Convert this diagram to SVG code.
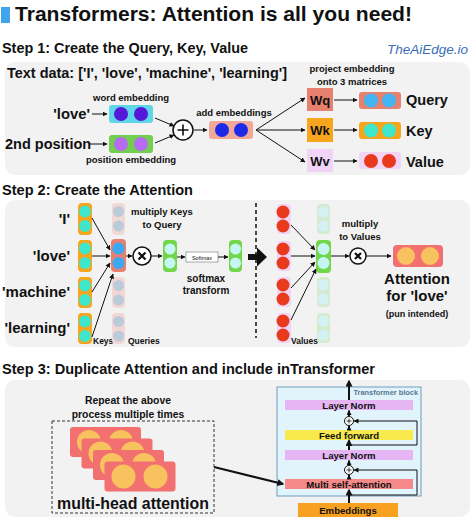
<svg xmlns="http://www.w3.org/2000/svg" width="474" height="519" viewBox="0 0 474 519">
<defs>
<style>
.t{font-family:"Liberation Sans",Arial,sans-serif;font-weight:bold;fill:#111}
.m{text-anchor:middle}
.e{text-anchor:end}
.panel{fill:#f2f2f2}
.ln{stroke:#111;stroke-width:1;fill:none}
.lnb{stroke:#111;stroke-width:2;fill:none}
.key{fill:#f8a51e}
.tq{fill:#3ee6cc}
.qf{fill:#f2d8d4}
.qfc{fill:#bccbd9}
.val{fill:#f2d4f6}
.red{fill:#e83a1c}
.gr{fill:#72d64a}
.grf{fill:#d4ebd0}
.cy{fill:#c6f6f4}
.cyf{fill:#d4f2f4}
.att{fill:#f27070}
.yel{fill:#f8c25e}
.op{fill:#fff;stroke:#111;stroke-width:1.5}
</style>
<marker id="a" viewBox="0 0 10 10" refX="9" refY="5" markerWidth="5" markerHeight="5" orient="auto" markerUnits="userSpaceOnUse"><path d="M0,0 L10,5 L0,10 z" fill="#111"/></marker>
<marker id="ab" viewBox="0 0 10 10" refX="8" refY="5" markerWidth="7" markerHeight="7" orient="auto" markerUnits="userSpaceOnUse"><path d="M0,0 L10,5 L0,10 z" fill="#111"/></marker>
</defs>
<rect width="474" height="519" fill="#fff"/>

<!-- Title -->
<g id="title">
<rect x="1" y="7" width="9" height="16" fill="#41a5ee"/>
<text class="t" x="15" y="21" font-size="20.5" textLength="397" lengthAdjust="spacingAndGlyphs">Transformers: Attention is all you need!</text>
<text class="t" x="2" y="53" font-size="14.2" textLength="246" lengthAdjust="spacingAndGlyphs">Step 1: Create the Query, Key, Value</text>
<text x="468" y="54" font-family="Liberation Sans,Arial,sans-serif" font-style="italic" font-size="13.5" fill="#3a6fb5" text-anchor="end">TheAiEdge.io</text>
</g>

<!-- Panels -->
<rect class="panel" x="5" y="62" width="465" height="113" rx="10"/>
<rect class="panel" x="5" y="200" width="465" height="147" rx="10"/>
<rect class="panel" x="5" y="380" width="465" height="137" rx="10"/>

<!-- Step 1 -->
<g id="step1-text">
<text class="t" x="7" y="78" font-size="14.5" textLength="280" lengthAdjust="spacingAndGlyphs">Text data: ['I', 'love', 'machine', 'learning']</text>
</g>
<g id="love-word">
<text class="t e" x="90" y="119" font-size="14.8">'love'</text>
</g>
<g id="word-embedding">
<text class="t m" x="131" y="101" font-size="9.5">word embedding</text>
<rect x="109" y="105" width="44" height="18" rx="3" fill="#5fd6e8"/>
<circle cx="121" cy="114" r="7" fill="#5518d8"/>
<circle cx="141" cy="114" r="7" fill="#5518d8"/>
</g>
<g id="position">
<text class="t" x="5" y="149" font-size="14.5">2nd position</text>
</g>
<g id="position-embedding">
<rect x="109" y="135" width="44" height="18" rx="3" fill="#72cf50"/>
<circle cx="121" cy="144" r="7" fill="#b66cf0"/>
<circle cx="141" cy="144" r="7" fill="#b66cf0"/>
<text class="t m" x="131" y="163" font-size="9.5">position embedding</text>
</g>
<g id="plus">
<circle class="op" cx="183" cy="130" r="10"/>
<path d="M177.5,130 H188.5 M183,124.5 V135.5" stroke="#111" stroke-width="1.6"/>
</g>
<g id="add-embeddings">
<text class="t m" x="234" y="116" font-size="9.5">add embeddings</text>
<rect x="209" y="121" width="44" height="18" rx="3" fill="#f2a898"/>
<circle cx="222" cy="130" r="7" fill="#1c2ae8"/>
<circle cx="241" cy="130" r="7" fill="#1c2ae8"/>
</g>
<g id="project-label">
<text class="t m" x="352" y="72" font-size="9.5">project embedding</text>
<text class="t m" x="352" y="85" font-size="9.5">onto 3 matrices</text>
</g>
<g id="Wq">
<rect x="307" y="88" width="26" height="23" fill="#e8806f"/>
<text class="t m" x="320" y="104.5" font-size="13">Wq</text>
</g>
<g id="Wk">
<rect x="307" y="118" width="26" height="24" fill="#f8a51e"/>
<text class="t m" x="320" y="135" font-size="13">Wk</text>
</g>
<g id="Wv">
<rect x="307" y="149" width="26" height="23" fill="#f2d4f6"/>
<text class="t m" x="320" y="165.5" font-size="13">Wv</text>
</g>
<g id="query">
<rect x="359" y="92" width="42" height="17" rx="3" fill="#e8806f"/>
<circle cx="371" cy="100.5" r="7" fill="#42b4f2"/>
<circle cx="389" cy="100.5" r="7" fill="#42b4f2"/>
<text class="t" x="406" y="105" font-size="14.5">Query</text>
</g>
<g id="key">
<rect x="359" y="122" width="42" height="17" rx="3" fill="#f8a51e"/>
<circle cx="371" cy="130.5" r="7" fill="#3ee6cc"/>
<circle cx="389" cy="130.5" r="7" fill="#3ee6cc"/>
<text class="t" x="406" y="136" font-size="14.5">Key</text>
</g>
<g id="value">
<rect x="359" y="152" width="42" height="17" rx="3" fill="#f2d4f6"/>
<circle cx="371" cy="161" r="7" fill="#e83a1c"/>
<circle cx="389" cy="161" r="7" fill="#e83a1c"/>
<text class="t" x="406" y="167" font-size="14.5">Value</text>
</g>

<!-- Step 2 -->
<g id="step2-heading">
<text class="t" x="2" y="195" font-size="14.2" textLength="191" lengthAdjust="spacingAndGlyphs">Step 2: Create the Attention</text>
</g>
<g id="words">
<text class="t e" x="70" y="224" font-size="15">'I'</text>
<text class="t e" x="70" y="261" font-size="15">'love'</text>
<text class="t e" x="70" y="297" font-size="15">'machine'</text>
<text class="t e" x="70" y="333" font-size="15">'learning'</text>
</g>
<g id="keys">
<rect class="key" x="78" y="203" width="14" height="32" rx="4"/>
<circle class="tq" cx="85" cy="211.5" r="6"/><circle class="tq" cx="85" cy="226" r="6"/>
<rect class="key" x="78" y="240" width="14" height="32" rx="4"/>
<circle class="tq" cx="85" cy="248.5" r="6"/><circle class="tq" cx="85" cy="263" r="6"/>
<rect class="key" x="78" y="277" width="14" height="31" rx="4"/>
<circle class="tq" cx="85" cy="285.5" r="6"/><circle class="tq" cx="85" cy="300" r="6"/>
<rect class="key" x="78" y="313" width="14" height="31" rx="4"/>
<circle class="tq" cx="85" cy="321.5" r="6"/><circle class="tq" cx="85" cy="336" r="6"/>
<text class="t" x="93" y="344" font-size="8.5">Keys</text>
</g>
<g id="queries">
<rect class="qf" x="112" y="203" width="13" height="32" rx="4"/>
<circle class="qfc" cx="118.5" cy="211.5" r="5.5"/><circle class="qfc" cx="118.5" cy="226" r="5.5"/>
<rect class="qf" x="112" y="277" width="13" height="31" rx="4"/>
<circle class="qfc" cx="118.5" cy="285.5" r="5.5"/><circle class="qfc" cx="118.5" cy="300" r="5.5"/>
<rect class="qf" x="112" y="313" width="13" height="31" rx="4"/>
<circle class="qfc" cx="118.5" cy="321.5" r="5.5"/><circle class="qfc" cx="118.5" cy="336" r="5.5"/>
<rect x="111" y="239" width="15" height="33" rx="4" fill="#e8806f"/>
<circle cx="118.5" cy="248.5" r="6" fill="#3aa8f2"/><circle cx="118.5" cy="263" r="6" fill="#3aa8f2"/>
<text class="t" x="128" y="344" font-size="8.5">Queries</text>
</g>
<g id="multiply-keys-label">
<text class="t m" x="162" y="215" font-size="9.5">multiply Keys</text>
<text class="t m" x="162" y="228" font-size="9.5">to Query</text>
</g>
<g id="mult1">
<circle class="op" cx="142" cy="256" r="9"/>
<path d="M138.5,252.5 L145.5,259.5 M145.5,252.5 L138.5,259.5" stroke="#111" stroke-width="2.2"/>
</g>
<g id="scores">
<rect class="gr" x="163" y="240" width="14" height="32" rx="4"/>
<circle class="cy" cx="170" cy="249" r="5.5"/><circle class="cy" cx="170" cy="263" r="5.5"/>
</g>
<g id="softmax">
<rect x="186" y="252" width="32" height="10" fill="#fff" stroke="#888" stroke-width="0.7"/>
<text class="t m" x="202" y="259.5" font-size="5.5" style="font-weight:normal">Softmax</text>
<text class="t m" x="206" y="282" font-size="10">softmax</text>
<text class="t m" x="206" y="294" font-size="10">transform</text>
</g>
<g id="weights">
<rect class="gr" x="229" y="240" width="13" height="32" rx="4"/>
<circle class="cy" cx="235.5" cy="249" r="5.5"/><circle class="cy" cx="235.5" cy="263" r="5.5"/>
</g>
<g id="divider">
<line x1="256" y1="203" x2="256" y2="338" stroke="#111" stroke-width="1.5" stroke-dasharray="4,3"/>
<path d="M248,254 L257,254 L257,247.5 L267,257 L257,266.5 L257,260 L248,260 Z" fill="#111"/>
</g>
<g id="values">
<rect class="val" x="277" y="204" width="14" height="30" rx="4"/>
<circle class="red" cx="283" cy="212" r="6.5"/><circle class="red" cx="283" cy="226" r="6.5"/>
<rect class="val" x="277" y="241" width="14" height="30" rx="4"/>
<circle class="red" cx="283" cy="249" r="6.5"/><circle class="red" cx="283" cy="263" r="6.5"/>
<rect class="val" x="277" y="277" width="14" height="30" rx="4"/>
<circle class="red" cx="283" cy="285" r="6.5"/><circle class="red" cx="283" cy="299" r="6.5"/>
<rect class="val" x="277" y="313" width="14" height="30" rx="4"/>
<circle class="red" cx="283" cy="321" r="6.5"/><circle class="red" cx="283" cy="335" r="6.5"/>
<text class="t" x="291" y="344" font-size="8.5">Values</text>
</g>
<g id="weights-column">
<rect class="grf" x="317" y="204" width="13" height="30" rx="4"/>
<circle class="cyf" cx="323.5" cy="212" r="5.5"/><circle class="cyf" cx="323.5" cy="226" r="5.5"/>
<rect class="grf" x="317" y="277" width="13" height="30" rx="4"/>
<circle class="cyf" cx="323.5" cy="285" r="5.5"/><circle class="cyf" cx="323.5" cy="299" r="5.5"/>
<rect class="grf" x="317" y="313" width="13" height="30" rx="4"/>
<circle class="cyf" cx="323.5" cy="321" r="5.5"/><circle class="cyf" cx="323.5" cy="335" r="5.5"/>
<rect class="gr" x="316" y="240" width="15" height="33" rx="4"/>
<circle class="cy" cx="323.5" cy="249" r="6"/><circle class="cy" cx="323.5" cy="263" r="6"/>
</g>
<g id="multiply-values-label">
<text class="t m" x="360" y="227" font-size="9.5">multiply</text>
<text class="t m" x="360" y="240" font-size="9.5">to Values</text>
</g>
<g id="mult2">
<circle class="op" cx="358" cy="256" r="8"/>
<path d="M355,253 L361,259 M361,253 L355,259" stroke="#111" stroke-width="2.2"/>
</g>
<g id="attention">
<rect class="att" x="393" y="245" width="50" height="22" rx="4"/>
<circle class="yel" cx="406" cy="256" r="9"/><circle class="yel" cx="430" cy="256" r="9"/>
<text class="t m" x="417" y="284" font-size="15">Attention</text>
<text class="t m" x="417" y="301" font-size="15">for 'love'</text>
<text class="t m" x="417" y="317" font-size="9">(pun intended)</text>
</g>

<!-- Step 3 -->
<g id="step3-heading">
<text class="t" x="2" y="374" font-size="14.2" textLength="373" lengthAdjust="spacingAndGlyphs">Step 3: Duplicate Attention and include inTransformer</text>
</g>
<g id="multi-head">
<text class="t m" x="128" y="404" font-size="10.4">Repeat the above</text>
<text class="t m" x="128" y="418" font-size="10.4">process multiple times</text>
<rect x="52" y="421" width="162" height="92" fill="none" stroke="#333" stroke-width="1" stroke-dasharray="3,2"/>
<g>
<rect class="att" x="70" y="427" width="71" height="30" rx="3"/>
<circle class="yel" cx="89" cy="442" r="12"/><circle class="yel" cx="121" cy="442" r="12"/>
<rect class="att" x="81.5" y="438.5" width="71" height="30" rx="3"/>
<circle class="yel" cx="100.5" cy="453.5" r="12"/><circle class="yel" cx="132.5" cy="453.5" r="12"/>
<rect class="att" x="93" y="450" width="71" height="30" rx="3"/>
<circle class="yel" cx="112" cy="465" r="12"/><circle class="yel" cx="144" cy="465" r="12"/>
<rect class="att" x="104.5" y="461.5" width="71" height="30" rx="3"/>
<circle class="yel" cx="123.5" cy="476.5" r="12"/><circle class="yel" cx="155.5" cy="476.5" r="12"/>
</g>
<text class="t m" x="133" y="509" font-size="15.9">multi-head attention</text>
</g>
<g id="transformer-block">
<rect x="277" y="387" width="144" height="109" fill="#e2f4fb" stroke="#6e9bbb" stroke-width="1"/>
<text x="418" y="395" font-family="Liberation Sans,Arial,sans-serif" font-weight="bold" font-size="7.4" fill="#55778f" text-anchor="end">Transformer block</text>
</g>
<g id="layer-norm-2">
<rect x="285" y="400" width="128" height="10" fill="#e6b6f4"/>
<text class="t m" x="349" y="408.5" font-size="9.6">Layer Norm</text>
</g>
<g id="feed-forward">
<rect x="285" y="430" width="128" height="10" fill="#f8ea4c"/>
<text class="t m" x="349" y="438.5" font-size="9.6">Feed forward</text>
</g>
<g id="layer-norm-1">
<rect x="285" y="450" width="128" height="10" fill="#e6b6f4"/>
<text class="t m" x="349" y="458.5" font-size="9.6">Layer Norm</text>
</g>
<g id="multi-self-attention">
<rect x="285" y="479" width="128" height="10" fill="#f68a8a"/>
<text class="t m" x="349" y="487.5" font-size="9.6">Multi self-attention</text>
</g>
<g id="embeddings">
<rect x="298" y="503" width="100" height="14" fill="#f8a020"/>
<text class="t m" x="348" y="514" font-size="9.6">Embeddings</text>
</g>
<g id="add-1">
<circle cx="349" cy="470" r="4.5" fill="#fff" stroke="#111" stroke-width="1"/>
<path d="M346.5,470 H351.5 M349,467.5 V472.5" stroke="#111" stroke-width="0.8"/>
</g>
<g id="add-2">
<circle cx="349" cy="421" r="4.5" fill="#fff" stroke="#111" stroke-width="1"/>
<path d="M346.5,421 H351.5 M349,418.5 V423.5" stroke="#111" stroke-width="0.8"/>
</g>

<!-- Connectors -->
<g id="connectors">
<line class="ln" x1="92" y1="114" x2="107" y2="114" marker-end="url(#a)"/>
<line class="ln" x1="90" y1="144" x2="107" y2="144" marker-end="url(#a)"/>
<line class="ln" x1="155" y1="118" x2="174" y2="126" marker-end="url(#a)"/>
<line class="ln" x1="155" y1="143" x2="174" y2="135" marker-end="url(#a)"/>
<line class="ln" x1="194" y1="130" x2="207" y2="130" marker-end="url(#a)"/>
<line class="ln" x1="256" y1="130" x2="305" y2="98" marker-end="url(#a)"/>
<line class="ln" x1="256" y1="130" x2="305" y2="130" marker-end="url(#a)"/>
<line class="ln" x1="256" y1="130" x2="305" y2="162" marker-end="url(#a)"/>
<line class="ln" x1="334" y1="100" x2="357" y2="100" marker-end="url(#a)"/>
<line class="ln" x1="334" y1="130" x2="357" y2="130" marker-end="url(#a)"/>
<line class="ln" x1="334" y1="161" x2="357" y2="161" marker-end="url(#a)"/>

<line class="ln" x1="92" y1="218" x2="110" y2="250" marker-end="url(#a)"/>
<line class="ln" x1="92" y1="256" x2="110" y2="256" marker-end="url(#a)"/>
<line class="ln" x1="92" y1="292" x2="110" y2="263" marker-end="url(#a)"/>
<line class="ln" x1="92" y1="337" x2="113" y2="274" marker-end="url(#a)"/>
<line class="ln" x1="126" y1="256" x2="132" y2="256" marker-end="url(#a)"/>
<line class="ln" x1="151" y1="256" x2="162" y2="256" marker-end="url(#a)"/>
<line class="ln" x1="177" y1="257" x2="185" y2="257" marker-end="url(#a)"/>
<line class="ln" x1="218" y1="257" x2="228" y2="257" marker-end="url(#a)"/>

<line class="ln" x1="291" y1="225" x2="315" y2="250" marker-end="url(#a)"/>
<line class="ln" x1="291" y1="256" x2="315" y2="256" marker-end="url(#a)"/>
<line class="ln" x1="291" y1="288" x2="315" y2="262" marker-end="url(#a)"/>
<line class="ln" x1="291" y1="320" x2="316" y2="269" marker-end="url(#a)"/>
<line class="ln" x1="331" y1="256" x2="349" y2="256" marker-end="url(#a)"/>
<line class="ln" x1="366" y1="256" x2="391" y2="256" marker-end="url(#a)"/>

<line class="lnb" x1="214" y1="467" x2="283" y2="484" stroke-width="1.5" marker-end="url(#ab)"/>
<line class="lnb" x1="349" y1="503" x2="349" y2="490" marker-end="url(#ab)"/>
<line class="lnb" x1="349" y1="479" x2="349" y2="475" marker-end="url(#a)"/>
<line class="lnb" x1="349" y1="465.5" x2="349" y2="460.5" marker-end="url(#a)"/>
<line class="lnb" x1="349" y1="450" x2="349" y2="440.5" marker-end="url(#ab)"/>
<line class="lnb" x1="349" y1="430" x2="349" y2="426" marker-end="url(#a)"/>
<line class="lnb" x1="349" y1="416.5" x2="349" y2="410.5" marker-end="url(#a)"/>
<line class="lnb" x1="349" y1="400" x2="349" y2="381" marker-end="url(#ab)"/>
<path class="ln" d="M349,495 H417 V470 H354" stroke-width="1.3" marker-end="url(#a)"/>
<path class="ln" d="M349,445 H417 V421 H354" stroke-width="1.3" marker-end="url(#a)"/>
</g>
</svg>
